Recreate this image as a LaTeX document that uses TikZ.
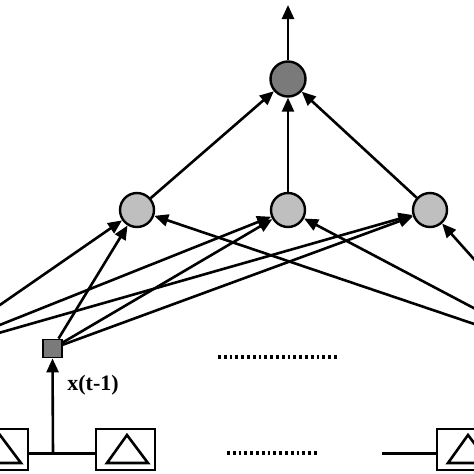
\documentclass[tikz,border=0pt]{standalone}
\usepackage{fontspec}
\setmainfont{Liberation Serif}
\usetikzlibrary{arrows.meta}
\begin{document}
\begin{tikzpicture}[x=1pt,y=-1pt,
  >={Triangle[length=14pt,width=12pt]},
  conn/.style={line width=2.6pt},
  hid/.style={circle,draw,line width=2.4pt,minimum size=34pt,inner sep=0pt,fill=black!25},
  outn/.style={circle,draw,line width=2.4pt,minimum size=35pt,inner sep=0pt,fill=black!52},
  sq/.style={rectangle,draw,line width=1.8pt,minimum width=19pt,minimum height=18pt,inner sep=0pt,fill=black!52},
  delaybox/.style={rectangle,draw,line width=2.2pt,minimum width=59pt,minimum height=41pt,inner sep=0pt},
  dotline/.style={line width=3.6pt,dash pattern=on 2.8pt off 3.0pt}
]
\useasboundingbox (0,0) rectangle (474,474);
\clip (0,0) rectangle (474,474);

% neurons
\node[outn] (o) at (288,79) {};
\coordinate (otop) at (288,5);
\node[hid] (h1) at (137,210) {};
\node[hid] (h2) at (288,210) {};
\node[hid] (h3) at (430,210) {};

% inputs
\node[sq] (s) at (52.5,348.5) {};
\coordinate (inL) at (-68,352);
\coordinate (inR) at (557,352);

% bottom delay boxes
\node[delaybox] (b0) at (-1.5,449.5) {};
\node[delaybox] (b1) at (125.5,449.5) {};
\node[delaybox] (b2) at (466.5,449.5) {};
\foreach \b in {b0,b1,b2}{
  \draw[line width=2.6pt,line join=miter] ([shift={(-18.5,13.5)}]\b.center) -- ([shift={(1.5,-14.5)}]\b.center) -- ([shift={(22.5,13.5)}]\b.center) -- cycle;
}
\coordinate (j) at (53,453.5);
\coordinate (rl) at (382,453.5);
\draw[conn] (b0.east |- j) -- (b1.west |- j);
\draw[conn] (rl) -- (b2.west |- rl);
\draw[conn,->] (j) -- (s.south);

% output
\draw[conn,->] (o) -- (otop);
\draw[conn,->] (h1) -- (o);
\draw[conn,->] (h2) -- (o);
\draw[conn,->] (h3) -- (o);

% input to hidden
\foreach \h in {h1,h2,h3}{
  \draw[conn,->] (s) -- (\h);
  \draw[conn,->] (inL) -- (\h);
  \draw[conn,->] (inR) -- (\h);
}

% dotted lines
\draw[dotline] (218,357) -- (338,357);
\draw[dotline] (227,453) -- (319,453);

% label
\node[font=\fontsize{22}{26}\selectfont\bfseries] (lab) at (93,385) {x(t-1)};
\end{tikzpicture}
\end{document}
